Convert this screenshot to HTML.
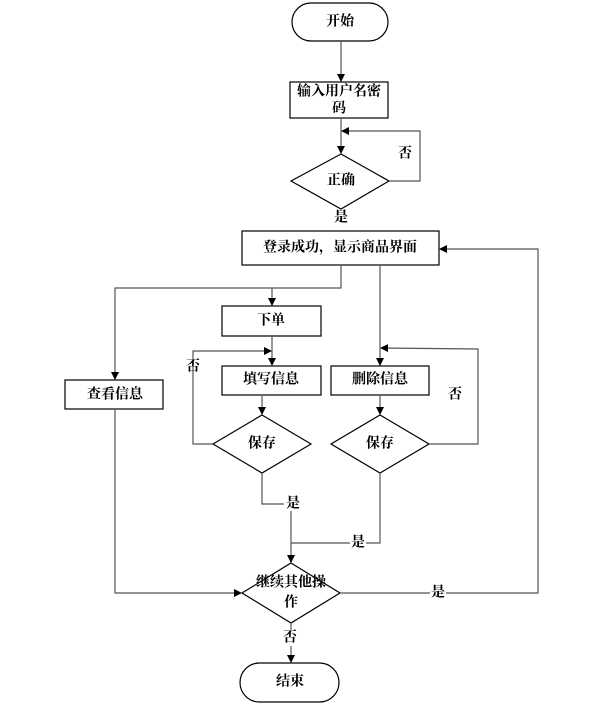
<!DOCTYPE html>
<html><head><meta charset="utf-8"><style>
html,body{margin:0;padding:0;background:#fff;}
svg{display:block;}
text{font-family:"Liberation Serif","Noto Serif CJK SC",serif;font-size:14px;font-weight:bold;fill:#000;text-anchor:middle;dominant-baseline:central;}
</style></head><body>
<svg width="607" height="706" viewBox="0 0 607 706" xmlns="http://www.w3.org/2000/svg">
<defs><marker id="a" markerWidth="8" markerHeight="8" refX="7" refY="4" orient="auto" markerUnits="userSpaceOnUse"><path d="M0,0 L8,4 L0,8 z" fill="#000"/></marker></defs>
<g fill="none" stroke="#000" stroke-width="1.2">
<rect x="292" y="3" width="96" height="38" rx="19"/>
<rect x="290" y="82" width="98" height="36"/>
<polygon points="341,154 389,181 341,209 291,181"/>
<rect x="242" y="231" width="197" height="34"/>
<rect x="222" y="306" width="99" height="30"/>
<rect x="222" y="366" width="99" height="29"/>
<rect x="331" y="366" width="98" height="29"/>
<rect x="65" y="380" width="98" height="29"/>
<polygon points="262,415 311,444 262,473 213,444"/>
<polygon points="380,415 429,444 380,473 331,444"/>
<polygon points="291,563 340,593 291,623 242,593"/>
<rect x="240" y="663" width="99" height="39" rx="19.5"/>
</g>
<g fill="none" stroke="#555" stroke-width="1.2">
<line x1="341" y1="41" x2="341" y2="81" marker-end="url(#a)"/>
<line x1="341" y1="118" x2="341" y2="153" marker-end="url(#a)"/>
<polyline points="389,181 420,181 420,131 342,131" marker-end="url(#a)"/>
<polyline points="341,265 341,288 115,288 115,379" marker-end="url(#a)"/>
<line x1="272" y1="288" x2="272" y2="305" marker-end="url(#a)"/>
<polyline points="380,265 380,295 380,365" marker-end="url(#a)"/>
<line x1="272" y1="336" x2="272" y2="365" marker-end="url(#a)"/>
<polyline points="213,444 193,444 193,351 271,351" marker-end="url(#a)"/>
<polyline points="429,444 478,444 478,349 381,348" marker-end="url(#a)"/>
<line x1="262" y1="395" x2="262" y2="414" marker-end="url(#a)"/>
<line x1="380" y1="395" x2="380" y2="414" marker-end="url(#a)"/>
<polyline points="262,473 262,504 291,504 291,562" marker-end="url(#a)"/>
<polyline points="380,473 380,543 291,543"/>
<polyline points="115,409 115,593 241,593" marker-end="url(#a)"/>
<polyline points="340,593 538,593 538,249 440,249" marker-end="url(#a)"/>
<line x1="291" y1="623" x2="291" y2="662" marker-end="url(#a)"/>
</g>
<g>
<rect x="284" y="497" width="16" height="14" fill="#fff"/>
<rect x="350" y="536" width="16" height="14" fill="#fff"/>
<rect x="430" y="586" width="16" height="14" fill="#fff"/>
<rect x="283" y="630" width="16" height="16" fill="#fff"/>
<rect x="333" y="210" width="16" height="16" fill="#fff"/>
</g>
<text x="340" y="22">开始</text>
<text x="339" y="92">输入用户名密</text>
<text x="339" y="109">码</text>
<text x="405" y="154">否</text>
<text x="341" y="181">正确</text>
<text x="341" y="218">是</text>
<text x="340" y="248">登录成功，显示商品界面</text>
<text x="271" y="321">下单</text>
<text x="193" y="367">否</text>
<text x="271" y="380">填写信息</text>
<text x="380" y="380">删除信息</text>
<text x="115" y="395">查看信息</text>
<text x="455" y="395">否</text>
<text x="262" y="444">保存</text>
<text x="380" y="444">保存</text>
<text x="293" y="504">是</text>
<text x="358" y="543">是</text>
<text x="291" y="583">继续其他操</text>
<text x="291" y="603">作</text>
<text x="438" y="593">是</text>
<text x="290" y="638">否</text>
<text x="290" y="682">结束</text>
</svg>
</body></html>
